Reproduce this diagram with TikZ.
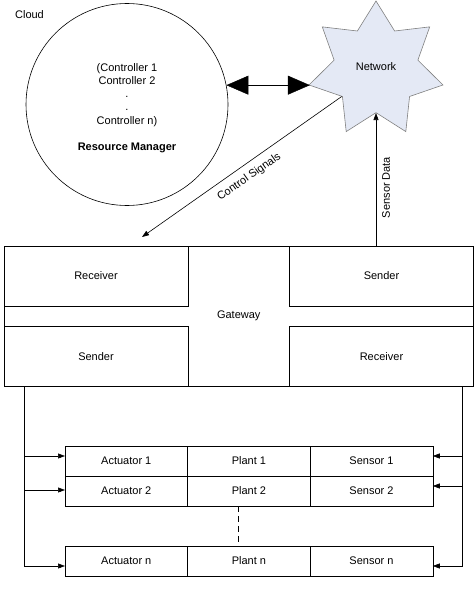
\documentclass[tikz,border=0pt]{standalone}
\usepackage{fontspec}
\setmainfont{Liberation Sans}
\usetikzlibrary{positioning,shapes.geometric,arrows.meta}
\definecolor{netfill}{RGB}{228,233,245}

\begin{document}
\begin{tikzpicture}[x=1pt, y=-1pt, line width=0.6pt,
		font=\fontsize{11}{13.3}\selectfont,
		box/.style={draw, outer sep=0pt, inner sep=0pt},
		cell/.style={box, minimum width=122.6pt, minimum height=30pt},
		tip/.style={-{Triangle[length=7pt, width=5pt]}},
		dbl/.style={{Triangle[length=22pt, width=19pt]}-{Triangle[length=22pt, width=19pt]}, line width=0.4pt}]
	\useasboundingbox (0,0) rectangle (474,594);

	\node (cloud) at (29.5,15) {Cloud};
	\node[circle, draw, minimum size=202pt,
		label={[align=center, yshift=-3.5pt]center:(Controller 1\\Controller 2\\.\\.\\Controller n)\\[13pt]\textbf{Resource Manager}}] (rm) at (127,104.5) {};
	\node[star, star points=7, star point ratio=1.6, minimum size=137.4pt, inner sep=0pt,
		draw=gray, fill=netfill, label={[yshift=3pt]center:Network}] (net) at (376,69.7) {};

	\node[box, minimum width=469.5pt, minimum height=140pt] (gw) at (238.75,316) {Gateway};
	\node[box, anchor=north west, minimum width=184pt, minimum height=60pt] (rx1) at (gw.north west) {Receiver};
	\node[box, anchor=north east, minimum width=184pt, minimum height=60pt] (tx1) at (gw.north east) {Sender};
	\node[box, anchor=south west, minimum width=184pt, minimum height=59.5pt] (tx2) at (gw.south west) {Sender};
	\node[box, anchor=south east, minimum width=184pt, minimum height=59.5pt] (rx2) at (gw.south east) {Receiver};

	\draw[dbl] (rm.11) -- (rm.11 -| net.192.86);
	\coordinate (cs) at (142,237);
	\draw[tip] (net.218.57) -- (cs) node[midway, sloped, below=4pt] {Control Signals};
	\draw[tip] (net.270 |- gw.north) -- (net.270) node[pos=0.44, sloped, below=2.5pt] {Sensor Data};

	\foreach \y/\i/\dl/\dr in {461/1/-5/-5, 491/2/-1/-5, 561/n/5/5} {
		\node[cell] (act\i) at (126.3,\y) {Actuator \i};
		\node[cell, right=0pt of act\i] (pl\i) {Plant \i};
		\node[cell, right=0pt of pl\i] (sn\i) {Sensor \i};
		\path (act\i.west) ++(0,\dl) coordinate (ai\i);
		\path (sn\i.east) ++(0,\dr) coordinate (si\i);
	}

	\coordinate (lt) at ([xshift=20.3pt]gw.south west);
	\coordinate (rt) at ([xshift=-10.8pt]gw.south east);
	\draw (lt) -- (lt |- ain);
	\draw (rt) -- (rt |- sin);
	\foreach \i in {1,2,n} {
		\draw[tip] (lt |- ai\i) -- (ai\i);
		\draw[tip] (rt |- si\i) -- (si\i);
	}
	\draw[dash pattern=on 6pt off 4pt] ([xshift=-11pt]pl2.south) -- ([xshift=-11pt]pln.north);
\end{tikzpicture}
\end{document}
